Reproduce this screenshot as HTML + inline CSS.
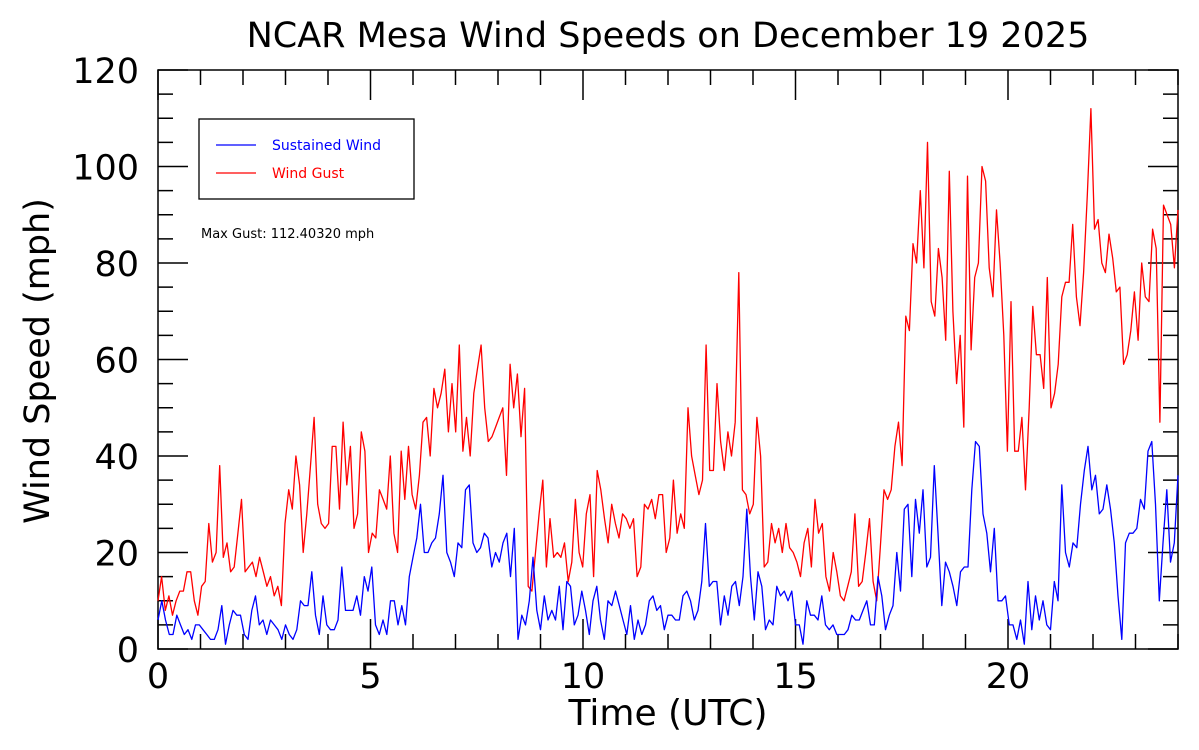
<!DOCTYPE html>
<html><head><meta charset="utf-8"><style>
body{margin:0;background:#fff;}
svg{display:block;font-family:"DejaVu Sans","Liberation Sans",sans-serif;}
</style></head><body>
<svg id="chart" width="1199" height="750" viewBox="0 0 1199 750">
<text x="668" y="47" font-size="35" text-anchor="middle">NCAR Mesa Wind Speeds on December 19 2025</text>
<g id="axes"></g>
<g id="series"></g>
<text x="668" y="725" font-size="36" text-anchor="middle">Time (UTC)</text>
<text transform="translate(49,361) rotate(-90)" font-size="35" text-anchor="middle">Wind Speed (mph)</text>
<g>
<rect x="199" y="119" width="215" height="80" fill="#fff" stroke="#000" stroke-width="1.3"/>
<line x1="216" y1="145" x2="256" y2="145" stroke="#0000ff" stroke-width="1.3"/>
<text x="272" y="150" font-size="14" fill="#0000ff">Sustained Wind</text>
<line x1="216" y1="173" x2="256" y2="173" stroke="#ff0000" stroke-width="1.3"/>
<text x="272" y="178" font-size="14" fill="#ff0000">Wind Gust</text>
</g>
<text x="201" y="238" font-size="13">Max Gust: 112.40320 mph</text>
</svg>
<script>
const xTicks=[0,5,10,15,20];
const yTicks=[0,20,40,60,80,100,120];
const gust=[10,15,8,11,7,10,12,12,16,16,10,7,13,14,26,18,20,38,19,22,16,17,24,31,16,17,18,15,19,16,13,15,11,13,9,26,33,29,40,34,20,28,38,48,30,26,25,26,42,42,29,47,34,42,25,28,45,41,20,24,23,33,31,29,40,24,20,41,31,42,32,29,36,47,48,40,54,50,53,58,45,55,45,63,41,48,40,53,58,63,50,43,44,46,48,50,36,59,50,57,44,54,13,12,20,28,35,17,27,19,20,19,22,14,18,31,20,17,28,32,15,37,33,27,22,30,26,23,28,27,25,27,15,17,30,29,31,27,32,32,20,23,35,24,28,25,50,40,36,32,35,63,37,37,55,43,37,45,40,47,78,33,32,28,30,48,40,17,18,26,22,25,20,26,21,20,18,15,22,25,17,31,24,26,15,12,20,16,11,10,13,16,28,13,14,20,27,14,10,21,33,31,33,42,47,38,69,66,84,80,95,79,105,72,69,83,77,64,99,70,55,65,46,98,62,77,80,100,97,79,73,91,80,65,41,72,41,41,48,33,50,71,61,61,54,77,50,53,59,73,76,76,88,73,67,78,94,112,87,89,80,78,86,81,74,75,59,61,66,74,64,80,73,72,87,83,47,92,90,88,79,91];
const sustained=[6,10,6,3,3,7,5,3,4,2,5,5,4,3,2,2,4,9,1,5,8,7,7,3,2,8,11,5,6,3,6,5,4,2,5,3,2,4,10,9,9,16,7,3,11,5,4,4,6,17,8,8,8,11,7,15,12,17,5,3,6,3,10,10,5,9,5,15,19,23,30,20,20,22,23,28,36,20,18,15,22,21,33,34,22,20,21,24,23,17,20,18,22,24,15,25,2,7,5,10,19,8,4,11,6,8,6,13,4,14,13,5,7,12,8,3,10,13,6,2,10,9,12,9,6,3,9,2,6,3,5,10,11,8,9,4,7,7,6,6,11,12,10,6,8,14,26,13,14,14,5,11,7,13,14,9,15,29,15,6,16,13,4,6,5,13,11,12,10,12,5,5,1,10,7,7,6,11,5,4,5,3,3,3,4,7,6,6,8,10,5,5,15,11,4,7,9,20,12,29,30,15,31,24,33,17,19,38,24,9,18,16,13,9,16,17,17,33,43,42,28,24,16,25,10,10,11,5,5,2,6,1,14,4,11,6,10,5,4,14,10,34,20,17,22,21,30,37,42,33,36,28,29,34,29,22,11,2,22,24,24,25,31,29,41,43,30,10,22,33,18,22,36];
const X0=158,X1=1178,Y0=649,Y1=70,XMAX=24,YMAX=120;
function xs(t){return X0+(X1-X0)*t/XMAX;}
function ys(v){return Y0-(Y0-Y1)*v/YMAX;}
const NS="http://www.w3.org/2000/svg";
const axes=document.getElementById('axes');
function mk(tag,attrs,parent){const e=document.createElementNS(NS,tag);for(const k in attrs)e.setAttribute(k,attrs[k]);parent.appendChild(e);return e;}
const frame=mk('rect',{x:X0,y:Y1,width:X1-X0,height:Y0-Y1,fill:'none',stroke:'#000','stroke-width':1.5},axes);


for(let h=0;h<=24;h++){
  const L=(h%5===0)?30:15;const x=xs(h);
  const tb=mk('line',{x1:x,y1:Y0,x2:x,y2:Y0-L,stroke:'#000','stroke-width':1.5},axes);
  
  
  const tt=mk('line',{x1:x,y1:Y1,x2:x,y2:Y1+L,stroke:'#000','stroke-width':1.5},axes);
  
  
}
for(let v=0;v<=120;v+=5){
  const L=(v%20===0)?30:15;const y=ys(v);
  const tl=mk('line',{x1:X0,y1:y,x2:X0+L,y2:y,stroke:'#000','stroke-width':1.5},axes);
  
  
  const tr=mk('line',{x1:X1,y1:y,x2:X1-L,y2:y,stroke:'#000','stroke-width':1.5},axes);
  
  
}
xTicks.forEach(t=>{const e=mk('text',{x:xs(t),y:688,'font-size':35,'text-anchor':'middle'},axes);e.textContent=t;
  
  });
yTicks.forEach(v=>{const e=mk('text',{x:139,y:ys(v)+13,'font-size':35,'text-anchor':'end'},axes);e.textContent=v;
  
  });
const ser=document.getElementById('series');
function draw(arr,color,name){
  const n=arr.length;
  const pts=arr.map((v,i)=>xs(i*XMAX/(n-1)).toFixed(1)+','+ys(v).toFixed(1)).join(' ');
  const p=mk('polyline',{points:pts,fill:'none',stroke:color,'stroke-width':1.3,'stroke-linejoin':'round'},ser);
  
  
}
draw(gust,'#ff0000','gust-line');
draw(sustained,'#0000ff','sustained-line');
</script>
</body></html>
